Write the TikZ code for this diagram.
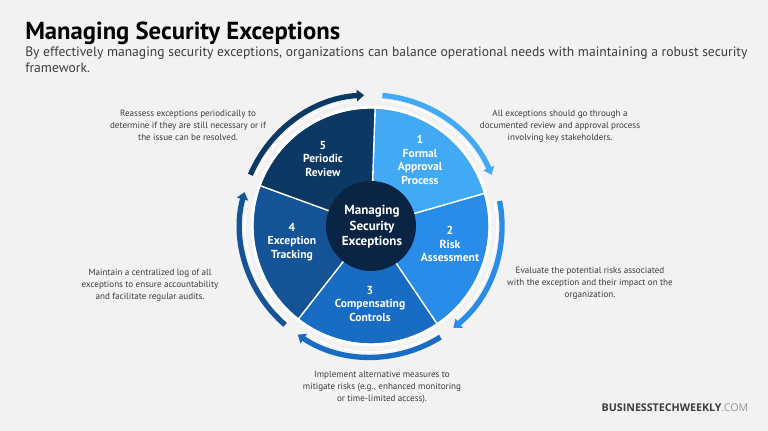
\documentclass[tikz,border=0pt]{standalone}
\usepackage{fontspec}
\setmainfont{PT Sans}
\newfontfamily\logofont{Open Sans}
\usetikzlibrary{arrows.meta,calc}
\definecolor{bgray}{RGB}{242,242,242}
\definecolor{textgray}{RGB}{60,60,60}
\definecolor{sliceA}{RGB}{66,170,245}
\definecolor{sliceB}{RGB}{40,140,232}
\definecolor{sliceC}{RGB}{24,108,196}
\definecolor{sliceD}{RGB}{20,84,150}
\definecolor{sliceE}{RGB}{12,56,100}
\definecolor{hubnavy}{RGB}{10,36,68}

\begin{document}
\begin{tikzpicture}[x=0.75pt,y=0.75pt,
    desc/.style={align=center, text=textgray, font=\fontsize{6.8}{9}\selectfont},
    slicelabel/.style={align=center, text=white, font=\bfseries\fontsize{8.7}{10.2}\selectfont},
    cyclearrow/.style={line width=4pt, -{Triangle[length=5.5pt,width=8.5pt]}}]
    \useasboundingbox[fill=bgray] (0,0) rectangle (768,431);
    \coordinate (C) at (371,205);

    % Create slices
    \filldraw[fill=sliceA, draw=white, line width=1pt] (C) -- ($(C)+(16:118)$) arc[start angle=16, end angle=88, radius=118] -- cycle;
    \filldraw[fill=sliceB, draw=white, line width=1pt] (C) -- ($(C)+(-56:118)$) arc[start angle=-56, end angle=16, radius=118] -- cycle;
    \filldraw[fill=sliceC, draw=white, line width=1pt] (C) -- ($(C)+(-128:118)$) arc[start angle=-128, end angle=-56, radius=118] -- cycle;
    \filldraw[fill=sliceD, draw=white, line width=1pt] (C) -- ($(C)+(160:118)$) arc[start angle=160, end angle=232, radius=118] -- cycle;
    \filldraw[fill=sliceE, draw=white, line width=1pt] (C) -- ($(C)+(88:118)$) arc[start angle=88, end angle=160, radius=118] -- cycle;
    \draw[white, line width=2pt] (C) circle[radius=119];

    % Draw cycle arrows
    \draw[white, line width=1.2pt] ($(C)+(85:126)$) arc[start angle=85, end angle=27, radius=126];
    \draw[white, line width=1.2pt] ($(C)+(11:126)$) arc[start angle=11, end angle=-47, radius=126];
    \draw[white, line width=1.2pt] ($(C)+(-58:126)$) arc[start angle=-58, end angle=-120, radius=126];
    \draw[white, line width=1.2pt] ($(C)+(229:126)$) arc[start angle=229, end angle=169, radius=126];
    \draw[white, line width=1.2pt] ($(C)+(157:126)$) arc[start angle=157, end angle=97, radius=126];
    \draw[cyclearrow, sliceA] ($(C)+(85:131)$) arc[start angle=85, end angle=23, radius=131];
    \draw[cyclearrow, sliceB] ($(C)+(11:131)$) arc[start angle=11, end angle=-51, radius=131];
    \draw[cyclearrow, sliceC] ($(C)+(-58:131)$) arc[start angle=-58, end angle=-124, radius=131];
    \draw[cyclearrow, sliceD] ($(C)+(229:131)$) arc[start angle=229, end angle=165, radius=131];
    \draw[cyclearrow, sliceE] ($(C)+(157:131)$) arc[start angle=157, end angle=93, radius=131];

    % Hub
    \node[circle, fill=hubnavy, minimum size=67.5pt, inner sep=0pt] (hub) at (C) {};
    \node[align=center, text=white, font=\bfseries\fontsize{9.8}{11.6}\selectfont] (hubtext) at (372,204) {Managing\\Security\\Exceptions};

    % Slice labels
    \node[slicelabel] (formal) at (420,271) {1\\Formal\\Approval\\Process};
    \node[slicelabel] (risk) at (450,187) {2\\Risk\\Assessment};
    \node[slicelabel] (compensating) at (370,127) {3\\Compensating\\Controls};
    \node[slicelabel] (tracking) at (292,189) {4\\Exception\\Tracking};
    \node[slicelabel] (review) at (323,272) {5\\Periodic\\Review};

    % Descriptions
    \node[desc] (descformal) at (560,305) {All exceptions should go through a\\documented review and approval process\\involving key stakeholders.};
    \node[desc] (descrisk) at (590,148) {Evaluate the potential risks associated\\with the exception and their impact on the\\organization.};
    \node[desc] (desccomp) at (382,44) {Implement alternative measures to\\mitigate risks (e.g., enhanced monitoring\\or time-limited access).};
    \node[desc] (desctrack) at (150,146) {Maintain a centralized log of all\\exceptions to ensure accountability\\and facilitate regular audits.};
    \node[desc] (descreview) at (188,306) {Reassess exceptions periodically to\\determine if they are still necessary or if\\the issue can be resolved.};

    % Title and logo
    \node[anchor=base west, inner sep=0pt, font=\bfseries\fontsize{18.5}{22}\selectfont] (title) at (25,391) {Managing Security Exceptions};
    \node[anchor=base west, inner sep=0pt, align=left, text=textgray, font=\fontsize{10.2}{12}\selectfont] (subtitle) at (25,358) {By effectively managing security exceptions, organizations can balance operational needs with maintaining a robust security\\framework.};
    \node[font=\logofont\fontsize{8}{9}\selectfont, text=textgray] (logo) at (675,23) {\textbf{BUSINESSTECHWEEKLY}{\color{gray!80}.COM}};
\end{tikzpicture}
\end{document}
